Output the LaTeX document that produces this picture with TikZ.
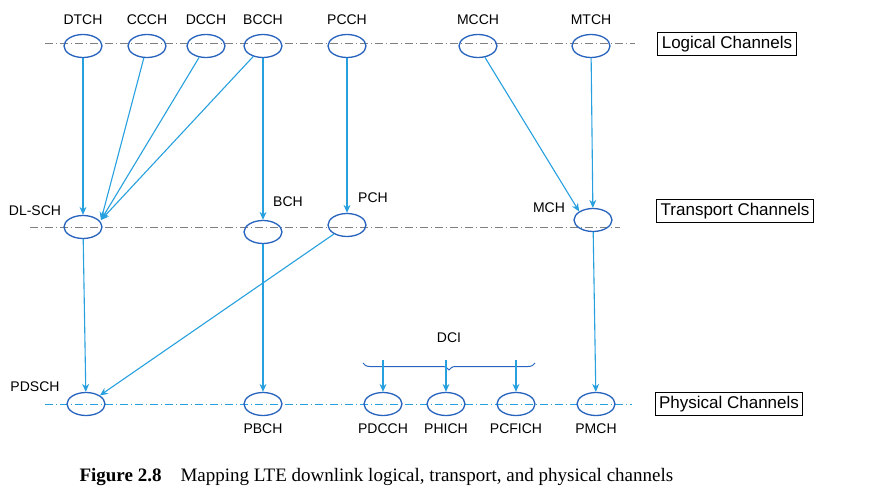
\documentclass[tikz,border=0pt]{standalone}
\usepackage{fontspec}
\setmainfont{Liberation Sans}
\newfontfamily\capfont{Liberation Serif}
\usetikzlibrary{arrows.meta,decorations.pathreplacing,shapes.geometric}
\definecolor{lb}{RGB}{38,160,222}
\definecolor{eb}{RGB}{40,100,190}
\begin{document}
\begin{tikzpicture}[x=1pt,y=-1pt,
 ch/.style={draw=eb,line width=1.3pt,ellipse,minimum width=38pt,minimum height=23pt,inner sep=0pt},
 lab/.style={font=\fontsize{14}{16}\selectfont},
 box/.style={draw,line width=1pt,font=\fontsize{17}{19}\selectfont,inner xsep=4pt,inner ysep=4pt},
 ar/.style={-{Stealth[length=8pt,width=7pt]},lb,line width=1.1pt},
 gl/.style={gray,line width=1pt,dash pattern=on 8pt off 3pt on 1pt off 3pt},
 bl/.style={lb,line width=1pt,dash pattern=on 8pt off 3pt on 1pt off 3pt}]
\useasboundingbox (0,0) rectangle (872,500);
% lines
\draw[gl] (45,44) -- (635,44);
\draw[gl] (30,227) -- (620,227);
\draw[bl] (45,404) -- (632,404);
% logical
\foreach \n/\x in {DTCH/83,CCCH/147,DCCH/206,BCCH/263,PCCH/347,MCCH/478,MTCH/591}{
 \node[ch] (\n) at (\x,46) {};
 \node[lab] (l\n) at (\x,20) {\n};}
\node[box] (lc) at (727,44) {Logical Channels};
% transport
\node[ch] (dlsch) at (83,227) {};
\node[ch] (bch) at (263,232) {};
\node[ch] (pch) at (347,225) {};
\node[ch] (mch) at (593,220) {};
\node[lab] (ldl) at (35,211) {DL-SCH};
\node[lab] (lbch) at (288,202) {BCH};
\node[lab] (lpch) at (373,198) {PCH};
\node[lab] (lmch) at (549,208) {MCH};
\node[box] (tc) at (735,211) {Transport Channels};
% physical
\foreach \n/\x in {PDSCH/86,PBCH/263,PDCCH/383,PHICH/446,PCFICH/516,PMCH/596}{
 \node[ch] (\n) at (\x,404) {};}
\node[lab] (lPDSCH) at (35,387) {PDSCH};
\foreach \n/\x in {PBCH/263,PDCCH/383,PHICH/446,PCFICH/516,PMCH/596}{
 \node[lab] (l\n) at (\x,429) {\n};}
\node[box] (pc) at (729,404) {Physical Channels};
% arrows
\coordinate (dlin) at (101,220);
\draw[ar] (DTCH) -- (dlsch);
\draw[ar] (CCCH) -- (dlin);
\draw[ar] (DCCH) -- (dlin);
\draw[ar] (BCCH) -- (dlin);
\draw[ar] (BCCH) -- (bch);
\draw[ar] (PCCH) -- (pch);
\draw[ar] (MCCH) -- (mch.north west);
\draw[ar] (MTCH) -- (mch);
\draw[ar] (dlsch) -- (PDSCH);
\draw[ar] (pch) -- (PDSCH.north east);
\draw[ar] (bch) -- (PBCH);
\draw[ar] (mch) -- (PMCH);
% DCI
\draw[eb,line width=1pt,decorate,decoration={brace,amplitude=7pt}] (535,363) -- (363,363);
\node[lab] (dci) at (449,338) {DCI};
\coordinate (b1) at (383,360);
\coordinate (b2) at (446,360);
\coordinate (b3) at (516,360);
\draw[ar] (b1) -- (PDCCH);
\draw[ar] (b2) -- (PHICH);
\draw[ar] (b3) -- (PCFICH);
% caption
\node[anchor=west,font=\capfont\fontsize{19}{21}\selectfont] (cap) at (76,477) {\textbf{Figure 2.8}\quad Mapping LTE downlink logical, transport, and physical channels};
\end{tikzpicture}
\end{document}
